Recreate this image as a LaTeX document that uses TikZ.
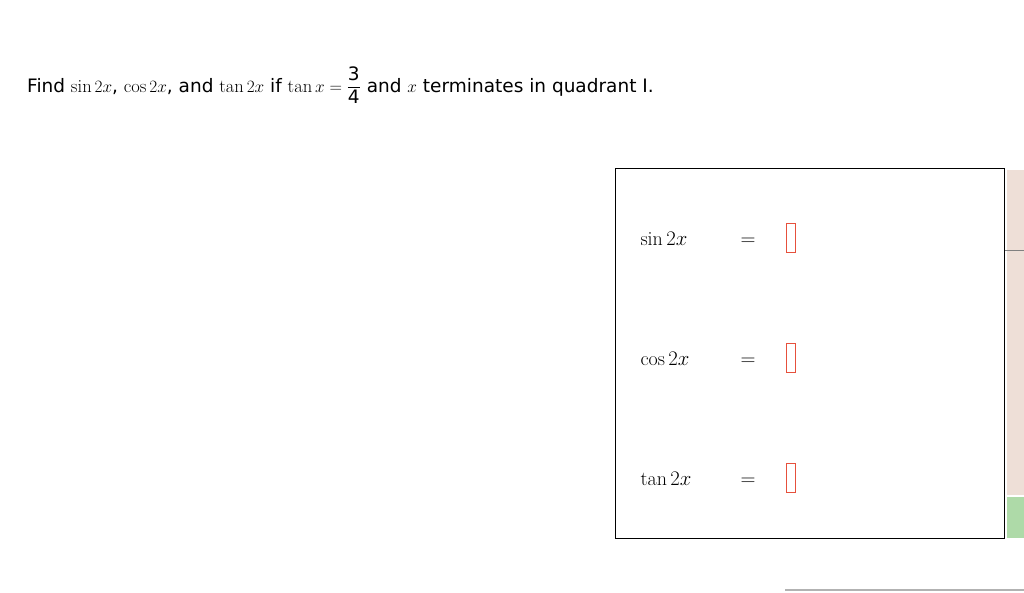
\documentclass[tikz,border=0pt]{standalone}
\usepackage{amsmath}
\usepackage{fontspec}
\setsansfont{DejaVu Sans}
\definecolor{ansred}{RGB}{230,80,60}
\definecolor{pinkbg}{RGB}{238,223,215}
\definecolor{greenbg}{RGB}{174,218,168}
\begin{document}
\begin{tikzpicture}[x=1pt,y=-1pt,
  lab/.style={anchor=base west,font=\fontsize{20}{24}\selectfont},
  ans/.style={draw=ansred,line width=1.3pt,minimum width=9pt,minimum height=29pt,inner sep=0pt}]
\useasboundingbox (0,0) rectangle (1024,592);
\node[anchor=base west,inner sep=0pt,font=\fontsize{18.5}{22}\selectfont] (q) at (27,92)
 {\sffamily Find $\sin 2x$, $\cos 2x$, and $\tan 2x$ if $\tan x=\dfrac{\textsf{3}}{\textsf{4}}$ and $x$ terminates in quadrant I.};
\fill[pinkbg] (1007,170) rectangle (1024,495);
\draw[gray,line width=1pt] (1005,250) -- (1024,250);
\fill[greenbg] (1007,497) rectangle (1024,538);
\draw[gray!60,line width=1.5pt] (785,590) -- (1024,590);
\node[draw,line width=1.2pt,minimum width=389pt,minimum height=370pt,anchor=north west,inner sep=0pt] (box) at (615,168) {};
\foreach \n/\t/\y in {s/sin/245,c/cos/365,t/tan/485}{
  \node[lab] (\n l) at (637,\y) {$\mathrm{\t}\,2x$};
  \node[lab] (\n e) at (737,\y) {$=$};
  \node[ans] (\n a) at (791,\y-7) {};
}
\end{tikzpicture}
\end{document}
